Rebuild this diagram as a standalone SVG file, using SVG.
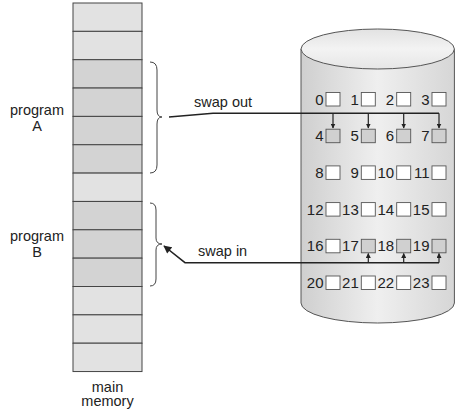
<svg xmlns="http://www.w3.org/2000/svg" width="461" height="420" viewBox="0 0 461 420">
<style>
text{font-family:"Liberation Sans",Arial,sans-serif;font-size:14.5px;fill:#222}
.lbl{text-anchor:middle}
.num{text-anchor:end;font-size:15px}
.mem{stroke:#444;stroke-width:1}
.lt{fill:#e2e2e2}
.dk{fill:#d3d3d3}
.box{fill:#fff;stroke:#555;stroke-width:0.9}
.gbox{fill:#d0d0d0;stroke:#555;stroke-width:0.9}
.brace{fill:none;stroke:#444;stroke-width:1}
.conn{fill:none;stroke:#222;stroke-width:1.5}
.drop{fill:none;stroke:#222;stroke-width:1.2}
</style>
<defs>
<marker id="ah" viewBox="0 0 10 10" refX="9" refY="5" markerWidth="5" markerHeight="5" orient="auto" markerUnits="userSpaceOnUse">
<path d="M0,0 L10,5 L0,10 Z" fill="#222"/>
</marker>
<marker id="ahb" viewBox="0 0 10 10" refX="9" refY="5" markerWidth="9" markerHeight="8" orient="auto" markerUnits="userSpaceOnUse">
<path d="M0,0 L10,5 L0,10 Z" fill="#222"/>
</marker>
<linearGradient id="body" x1="0" y1="0" x2="1" y2="0">
<stop offset="0" stop-color="#cfcfcf"/>
<stop offset="0.5" stop-color="#efefef"/>
<stop offset="1" stop-color="#d6d6d6"/>
</linearGradient>
<linearGradient id="top" x1="0" y1="0" x2="0" y2="1">
<stop offset="0" stop-color="#e2e2e2"/>
<stop offset="0.5" stop-color="#f3f3f3"/>
<stop offset="1" stop-color="#e6e6e6"/>
</linearGradient>
</defs>
<rect width="461" height="420" fill="#fff"/>

<g id="main-memory">
<rect class="mem lt" x="73" y="3" width="69" height="28.35"/>
<rect class="mem lt" x="73" y="31.35" width="69" height="28.35"/>
<rect class="mem dk" x="73" y="59.7" width="69" height="28.35"/>
<rect class="mem dk" x="73" y="88.05" width="69" height="28.35"/>
<rect class="mem dk" x="73" y="116.4" width="69" height="28.35"/>
<rect class="mem dk" x="73" y="144.75" width="69" height="28.35"/>
<rect class="mem lt" x="73" y="173.1" width="69" height="28.35"/>
<rect class="mem dk" x="73" y="201.45" width="69" height="28.35"/>
<rect class="mem dk" x="73" y="229.8" width="69" height="28.35"/>
<rect class="mem dk" x="73" y="258.15" width="69" height="28.35"/>
<rect class="mem lt" x="73" y="286.5" width="69" height="28.35"/>
<rect class="mem lt" x="73" y="314.85" width="69" height="28.35"/>
<rect class="mem lt" x="73" y="343.2" width="69" height="28.35"/>
<text class="lbl" x="107.5" y="391.5">main</text>
<text class="lbl" x="107.5" y="406">memory</text>
</g>

<g id="program-a">
<path class="brace" d="M150,62 Q157,62 157,70 L157,110 Q157,117 162,117 Q157,117 157,124 L157,165 Q157,173 150,173"/>
<text class="lbl" x="37" y="115">program</text>
<text class="lbl" x="37" y="131">A</text>
</g>

<g id="program-b">
<path class="brace" d="M150,203 Q156,203 156,210 L156,238 Q156,244 162,244 Q156,244 156,250 L156,279 Q156,286 150,286"/>
<text class="lbl" x="37" y="241">program</text>
<text class="lbl" x="37" y="257">B</text>
</g>

<g id="disk">
<path d="M301,49 L301,303 A76.7,20 0 0 0 454.4,303 L454.4,49" fill="url(#body)" stroke="#555" stroke-width="1"/>
<ellipse cx="377.7" cy="49" rx="76.7" ry="20" fill="url(#top)" stroke="#555" stroke-width="1"/>
</g>

<g id="blocks">
<g id="row0">
<text class="num" x="323.5" y="104.5">0</text><rect class="box" x="326" y="92.5" width="14" height="13.5"/>
<text class="num" x="358.8" y="104.5">1</text><rect class="box" x="361.3" y="92.5" width="14" height="13.5"/>
<text class="num" x="394.2" y="104.5">2</text><rect class="box" x="396.7" y="92.5" width="14" height="13.5"/>
<text class="num" x="429.5" y="104.5">3</text><rect class="box" x="432" y="92.5" width="14" height="13.5"/>
</g>
<g id="row1">
<text class="num" x="323.5" y="141.2">4</text><rect class="gbox" x="326" y="129.2" width="14" height="13.5"/>
<text class="num" x="358.8" y="141.2">5</text><rect class="gbox" x="361.3" y="129.2" width="14" height="13.5"/>
<text class="num" x="394.2" y="141.2">6</text><rect class="gbox" x="396.7" y="129.2" width="14" height="13.5"/>
<text class="num" x="429.5" y="141.2">7</text><rect class="gbox" x="432" y="129.2" width="14" height="13.5"/>
</g>
<g id="row2">
<text class="num" x="323.5" y="177.9">8</text><rect class="box" x="326" y="165.9" width="14" height="13.5"/>
<text class="num" x="358.8" y="177.9">9</text><rect class="box" x="361.3" y="165.9" width="14" height="13.5"/>
<text class="num" x="394.2" y="177.9">10</text><rect class="box" x="396.7" y="165.9" width="14" height="13.5"/>
<text class="num" x="429.5" y="177.9">11</text><rect class="box" x="432" y="165.9" width="14" height="13.5"/>
</g>
<g id="row3">
<text class="num" x="323.5" y="214.6">12</text><rect class="box" x="326" y="202.6" width="14" height="13.5"/>
<text class="num" x="358.8" y="214.6">13</text><rect class="box" x="361.3" y="202.6" width="14" height="13.5"/>
<text class="num" x="394.2" y="214.6">14</text><rect class="box" x="396.7" y="202.6" width="14" height="13.5"/>
<text class="num" x="429.5" y="214.6">15</text><rect class="box" x="432" y="202.6" width="14" height="13.5"/>
</g>
<g id="row4">
<text class="num" x="323.5" y="251.3">16</text><rect class="box" x="326" y="239.3" width="14" height="13.5"/>
<text class="num" x="358.8" y="251.3">17</text><rect class="gbox" x="361.3" y="239.3" width="14" height="13.5"/>
<text class="num" x="394.2" y="251.3">18</text><rect class="gbox" x="396.7" y="239.3" width="14" height="13.5"/>
<text class="num" x="429.5" y="251.3">19</text><rect class="gbox" x="432" y="239.3" width="14" height="13.5"/>
</g>
<g id="row5">
<text class="num" x="323.5" y="288">20</text><rect class="box" x="326" y="276" width="14" height="13.5"/>
<text class="num" x="358.8" y="288">21</text><rect class="box" x="361.3" y="276" width="14" height="13.5"/>
<text class="num" x="394.2" y="288">22</text><rect class="box" x="396.7" y="276" width="14" height="13.5"/>
<text class="num" x="429.5" y="288">23</text><rect class="box" x="432" y="276" width="14" height="13.5"/>
</g>
</g>

<g id="connectors">
<path class="conn" d="M169,117 L213,113.3 L439,113.3"/>
<path class="drop" d="M333,113.3 L333,128" marker-end="url(#ah)"/>
<path class="drop" d="M368.3,113.3 L368.3,128" marker-end="url(#ah)"/>
<path class="drop" d="M403.7,113.3 L403.7,128" marker-end="url(#ah)"/>
<path class="drop" d="M439,113.3 L439,128" marker-end="url(#ah)"/>
<path class="conn" d="M439,262.7 L185,262.7 L164,246" marker-end="url(#ahb)"/>
<path class="drop" d="M368.3,262.7 L368.3,253.5" marker-end="url(#ah)"/>
<path class="drop" d="M403.7,262.7 L403.7,253.5" marker-end="url(#ah)"/>
<path class="drop" d="M439,262.7 L439,253.5" marker-end="url(#ah)"/>
<text x="194" y="107.3">swap out</text>
<text x="198" y="256">swap in</text>
</g>
</svg>
